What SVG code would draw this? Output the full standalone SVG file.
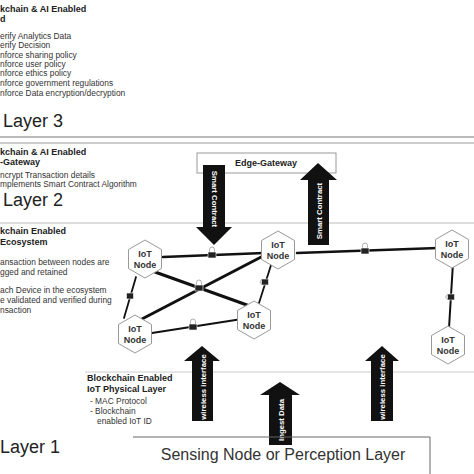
<svg xmlns="http://www.w3.org/2000/svg" width="474" height="474" viewBox="0 0 474 474">
<style>
text{font-family:"Liberation Sans",Arial,sans-serif;fill:#333}
.b{font-weight:bold;font-size:9px;fill:#222}
.t{font-size:8.4px}
.big{font-size:18px;fill:#222}
.hex{fill:#fff;stroke:#999;stroke-width:1}
.nt{font-size:9px;font-weight:bold;text-anchor:middle;fill:#333}
.arr{fill:#111}
.at{font-size:7.8px;font-weight:bold;fill:#fff;text-anchor:middle}
.e{stroke:#111;stroke-linecap:round;fill:none}
.mk{fill:#222;stroke:#fff;stroke-width:0.6}
.lk{fill:none;stroke:#999;stroke-width:0.8}
.sep{stroke-width:1;fill:none}
</style>
<defs>
<g id="hx"><polygon class="hex" points="0,-19 16.5,-9.5 16.5,9.5 0,19 -16.5,9.5 -16.5,-9.5"/></g>
<g id="lock"><path class="lk" d="M-2.5,-3 v-2.5 a2.5,2.5 0 0 1 5,0 v2.5"/><rect class="mk" x="-4" y="-3" width="8" height="6"/></g>
<g id="box"><rect class="mk" x="-3.5" y="-3" width="7" height="6"/></g>
</defs>
<rect width="474" height="474" fill="#fff"/>

<!-- Layer 3 -->
<g id="layer3">
<text class="b" x="0" y="12">kchain &amp; AI Enabled</text>
<text class="b" x="0" y="22">d</text>
<text class="t" x="0" y="39">erify Analytics Data</text>
<text class="t" x="0" y="48">erify Decision</text>
<text class="t" x="0" y="58">nforce sharing policy</text>
<text class="t" x="0" y="67">nforce user policy</text>
<text class="t" x="0" y="76">nforce ethics policy</text>
<text class="t" x="0" y="86">nforce government regulations</text>
<text class="t" x="0" y="96">nforce Data encryption/decryption</text>
<text class="big" x="3" y="127">Layer 3</text>
</g>
<line class="sep" x1="0" y1="137" x2="474" y2="137" stroke="#777" stroke-width="1.6"/>
<line class="sep" x1="0" y1="143" x2="474" y2="143" stroke="#999" stroke-width="1.3"/>

<!-- Layer 2 -->
<g id="layer2">
<text class="b" x="0" y="155">kchain &amp; AI Enabled</text>
<text class="b" x="0" y="165">-Gateway</text>
<text class="t" x="0" y="178">ncrypt Transaction details</text>
<text class="t" x="0" y="187">mplements Smart Contract Algorithm</text>
<text class="big" x="3" y="206">Layer 2</text>
</g>
<line class="sep" x1="0" y1="223" x2="474" y2="223" stroke="#bbb"/>

<g id="edge-gateway">
<rect x="197" y="153" width="139" height="20" fill="#fff" stroke="#999"/>
<text class="b" x="266" y="166" text-anchor="middle" font-size="8">Edge-Gateway</text>
</g>

<g id="arrows-sc">
<polygon class="arr" points="203,165 225,165 225,227 232,227 214,245 196,227 203,227"/>
<text class="at" transform="translate(211.5,199) rotate(90)">Smart Contract</text>
<polygon class="arr" points="318,163 337,180 329,180 329,245 308,245 308,180 300,180"/>
<text class="at" transform="translate(321.5,211) rotate(-90)">Smart Contract</text>
</g>

<!-- Ecosystem text -->
<g id="ecosystem">
<text class="b" x="0" y="234">kchain Enabled</text>
<text class="b" x="0" y="245">Ecosystem</text>
<text class="t" x="0" y="265">ansaction between nodes are</text>
<text class="t" x="0" y="275">gged and retained</text>
<text class="t" x="0" y="293">ach Device in the ecosystem</text>
<text class="t" x="0" y="303">e validated and verified during</text>
<text class="t" x="0" y="313">nsaction</text>
</g>

<!-- connectors -->
<g id="connectors">
<line class="e" x1="163" y1="257" x2="264" y2="253" stroke-width="2.5"/>
<line class="e" x1="155" y1="272" x2="247" y2="305" stroke-width="3"/>
<line class="e" x1="140" y1="320" x2="265" y2="255" stroke-width="3"/>
<line class="e" x1="272" y1="262" x2="259" y2="303" stroke-width="1.8"/>
<line class="e" x1="136" y1="277" x2="124" y2="318" stroke-width="1.8"/>
<line class="e" x1="152" y1="333" x2="242" y2="319" stroke-width="2"/>
<line class="e" x1="297" y1="253" x2="438" y2="248" stroke-width="2.5"/>
<line class="e" x1="453" y1="263" x2="449" y2="328" stroke-width="2"/>
<use href="#lock" x="212" y="255"/>
<use href="#lock" x="199" y="288"/>
<use href="#box" x="265" y="282"/>
<use href="#box" x="130" y="296"/>
<use href="#lock" x="193" y="327"/>
<use href="#lock" x="365" y="251"/>
<use href="#box" x="451" y="297"/>
<path class="lk" d="M448,294 l-2.5,3 l2.5,3"/>
<path class="lk" d="M262,279 l-2,3 l2,3"/>
</g>

<!-- nodes -->
<g id="node-a" transform="translate(145,259)"><use href="#hx"/><text class="nt" y="-2">IoT</text><text class="nt" y="9">Node</text></g>
<g id="node-b" transform="translate(278,250)"><use href="#hx"/><text class="nt" y="-2">IoT</text><text class="nt" y="9">Node</text></g>
<g id="node-c" transform="translate(254,320)"><use href="#hx"/><text class="nt" y="-2">IoT</text><text class="nt" y="9">Node</text></g>
<g id="node-d" transform="translate(135,334)"><use href="#hx"/><text class="nt" y="-2">IoT</text><text class="nt" y="9">Node</text></g>
<g id="node-e" transform="translate(452,249)"><use href="#hx"/><text class="nt" y="-2">IoT</text><text class="nt" y="9">Node</text></g>
<g id="node-f" transform="translate(448,345)"><use href="#hx"/><text class="nt" y="-2">IoT</text><text class="nt" y="9">Node</text></g>

<!-- Layer 1 -->
<line class="sep" x1="85" y1="372" x2="474" y2="372" stroke="#ccc"/>
<g id="physical">
<text class="b" x="87" y="381">Blockchain Enabled</text>
<text class="b" x="87" y="392">IoT Physical Layer</text>
<text class="t" x="90" y="404">- MAC Protocol</text>
<text class="t" x="90" y="414">- Blockchain</text>
<text class="t" x="97" y="424">enabled IoT ID</text>
</g>
<g id="arrows-l1">
<polygon class="arr" points="202,346 220,361 213,361 213,421 192,421 192,361 184,361"/>
<text class="at" transform="translate(205.5,387) rotate(-90)">wireless interface</text>
<polygon class="arr" points="382,346 399,361 393,361 393,421 371,421 371,361 365,361"/>
<text class="at" transform="translate(385,387) rotate(-90)">wireless interface</text>
<polygon class="arr" points="280,382 300,395 292,395 292,445 269,445 269,395 260,395"/>
<text class="at" transform="translate(283.5,420) rotate(-90)">Ingest Data</text>
</g>
<g id="sensing">
<polyline points="133,437 430,437 430,474" fill="none" stroke="#666" stroke-width="1"/>
<text x="283" y="460" font-size="16" text-anchor="middle" fill="#222">Sensing Node or Perception Layer</text>
</g>
<text class="big" x="0" y="453">Layer 1</text>
</svg>
